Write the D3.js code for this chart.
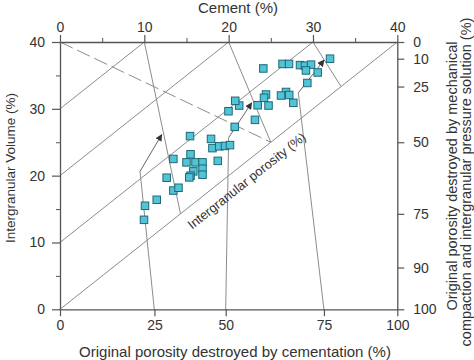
<!DOCTYPE html>
<html>
<head>
<meta charset="utf-8">
<script src="https://cdn.jsdelivr.net/npm/d3@7"></script>
<style>
  html, body { margin: 0; padding: 0; background: #fff; }
  svg { display: block; font-family: "Liberation Sans", Arial, Helvetica, sans-serif; }
</style>
</head>
<body>
<svg id="chart" width="474" height="360"></svg>
<script>
// ---------- data ----------
const cementTicks = [0, 10, 20, 30, 40];
const cementMinorTicks = [5, 15, 25, 35];
const igvTicks = [0, 10, 20, 30, 40];
const igvMinorTicks = [5, 15, 25, 35];
const compactionLabels = [0, 10, 25, 50, 75, 90, 100];
const cementationLabels = [0, 25, 50, 75, 100];
const cementationAtCement = [0, 11.2, 19.65, 31.3, 40];
const porosityIntercepts = [0, 10, 20, 30];
const isoCementationTop = [10, 20, 30];
const isoCementationBase = [14.29, 25, 33.33];
const equalLossLine = [[0, 40], [25, 25]];
const arrowPaths = [
  [[11.18, 0], [9.49, 20.64], [12.06, 26.14]],
  [[19.65, 0], [20.0, 25.7], [22.73, 30.9]],
  [[31.3, 0], [28.26, 32.4], [31.31, 37.29]]
];
const sampleCement = [32.02, 26.39, 27.16, 28.46, 29.05, 29.77, 29.17, 30.56, 24.11, 29.33,
  26.80, 26.21, 27.18, 27.67, 24.43, 24.19, 23.44, 24.73, 21.25, 20.78,
  23.12, 20.72, 19.98, 15.42, 17.91, 18.08, 18.88, 19.57, 20.16, 13.44,
  15.48, 15.00, 16.07, 16.90, 18.71, 16.90, 16.90, 15.81, 15.48, 15.33,
  12.65, 13.44, 14.05, 11.47, 10.08, 9.96];
const sampleIGV = [37.50, 36.72, 36.72, 36.54, 36.45, 36.61, 35.74, 35.44, 36.04, 33.87,
  32.52, 31.99, 32.07, 30.90, 32.14, 31.65, 30.54, 30.49, 30.49, 31.20,
  28.35, 27.30, 29.64, 25.92, 25.50, 24.12, 24.39, 24.45, 24.57, 22.50,
  23.19, 21.99, 21.99, 21.99, 22.21, 21.04, 20.14, 20.64, 19.99, 19.74,
  19.69, 17.77, 18.19, 16.39, 15.49, 13.39];

// ---------- layout ----------
const svg = d3.select("#chart");
const x = d3.scaleLinear().domain([0, 40]).range([60, 397.3]);
const y = d3.scaleLinear().domain([0, 40]).range([309.3, 42]);
const axisColor = "#555";
const lineColor = "#8c8c8c";
const textColor = "#333";

// original porosity 40 %: compaction loss fraction -> IGV
const igvForCompaction = p => 4000 * (1 - p / 100) / (100 - 0.4 * p);

svg.append("defs").append("marker")
  .attr("id", "arrowhead")
  .attr("viewBox", "0 0 10 10")
  .attr("refX", 9).attr("refY", 5)
  .attr("markerWidth", 7).attr("markerHeight", 7)
  .attr("markerUnits", "userSpaceOnUse")
  .attr("orient", "auto")
  .append("path").attr("d", "M0,0 L10,5 L0,10 z").attr("fill", "#333");

const line = d3.line().x(d => x(d[0])).y(d => y(d[1]));

// intergranular porosity diagonals
svg.append("g").selectAll("line").data(porosityIntercepts).join("line")
  .attr("x1", d => x(0)).attr("y1", d => y(d))
  .attr("x2", d => x(40 - d)).attr("y2", y(40))
  .attr("stroke", lineColor).attr("stroke-width", 1);

// iso cementation-loss lines
svg.append("g").selectAll("line").data(isoCementationTop).join("line")
  .attr("x1", d => x(d)).attr("y1", y(40))
  .attr("x2", (d, i) => x(isoCementationBase[i])).attr("y2", (d, i) => y(isoCementationBase[i]))
  .attr("stroke", lineColor).attr("stroke-width", 1);

// dashed equal-loss line
svg.append("path").datum(equalLossLine).attr("d", line)
  .attr("fill", "none").attr("stroke", lineColor).attr("stroke-width", 1)
  .attr("stroke-dasharray", "14,5");

// arrow paths: vertical part gray, arrow part dark
const ag = svg.append("g");
arrowPaths.forEach(p => {
  ag.append("path").datum(p.slice(0, 2)).attr("d", line)
    .attr("fill", "none").attr("stroke", lineColor).attr("stroke-width", 1);
  ag.append("path").datum(p.slice(1)).attr("d", line)
    .attr("fill", "none").attr("stroke", "#555").attr("stroke-width", 0.9)
    .attr("marker-end", "url(#arrowhead)");
});

// label along diagonal
const ang = Math.atan2(y(0) - y(40), x(40) - x(0)) * 180 / Math.PI;
svg.append("text")
  .attr("transform", `translate(${x(22.14)},${y(19.24)}) rotate(${-ang})`)
  .attr("text-anchor", "middle").attr("dy", "0.35em")
  .attr("font-size", 13).attr("fill", textColor)
  .text("Intergranular porosity (%)");

// samples
const s = 7.5;
svg.append("g").selectAll("rect").data(sampleCement).join("rect")
  .attr("x", d => x(d) - s / 2)
  .attr("y", (d, i) => y(sampleIGV[i]) - s / 2)
  .attr("width", s).attr("height", s)
  .attr("fill", "#52c4d5").attr("stroke", "#1d6878").attr("stroke-width", 1);

// ---------- axes ----------
function styleAxis(g) {
  g.select(".domain").attr("stroke", axisColor).attr("stroke-width", 1.3);
  g.selectAll(".tick line").attr("stroke", axisColor).attr("stroke-width", 1.2);
  g.selectAll(".tick text").attr("fill", textColor).attr("font-size", 14)
    .attr("font-family", '"Liberation Sans", Arial, sans-serif');
}

// top: cement
const gTop = svg.append("g").attr("transform", `translate(0,${y(40)})`)
  .call(d3.axisTop(x).tickValues(cementTicks).tickSize(7).tickSizeOuter(0).tickPadding(3));
styleAxis(gTop);
svg.append("g").attr("transform", `translate(0,${y(40)})`)
  .call(d3.axisTop(x).tickValues(cementMinorTicks).tickSize(4).tickSizeOuter(0).tickFormat(""))
  .call(g => { g.select(".domain").remove(); g.selectAll("line").attr("stroke", axisColor); });

// left: IGV
const gLeft = svg.append("g").attr("transform", `translate(${x(0)},0)`)
  .call(d3.axisLeft(y).tickValues(igvTicks).tickSize(8).tickSizeOuter(0).tickPadding(7));
styleAxis(gLeft);
svg.append("g").attr("transform", `translate(${x(0)},0)`)
  .call(d3.axisLeft(y).tickValues(igvMinorTicks).tickSize(4).tickSizeOuter(0).tickFormat(""))
  .call(g => { g.select(".domain").remove(); g.selectAll("line").attr("stroke", axisColor); });

// right: compaction loss
const gRight = svg.append("g").attr("transform", `translate(${x(40)},0)`)
  .call(d3.axisRight(y).tickValues(compactionLabels.map(igvForCompaction))
    .tickFormat((d, i) => compactionLabels[i]).tickSize(7).tickSizeOuter(0).tickPadding(9));
styleAxis(gRight);

// bottom: cementation loss
const gBottom = svg.append("g").attr("transform", `translate(0,${y(0)})`)
  .call(d3.axisBottom(x).tickValues(cementationAtCement)
    .tickFormat((d, i) => cementationLabels[i]).tickSize(7).tickSizeOuter(0).tickPadding(4));
styleAxis(gBottom);

// ---------- titles ----------
svg.append("text").attr("x", 238).attr("y", 13)
  .attr("text-anchor", "middle").attr("font-size", 15).attr("fill", textColor)
  .text("Cement (%)");
svg.append("text").attr("x", 235).attr("y", 357)
  .attr("text-anchor", "middle").attr("font-size", 15).attr("fill", textColor)
  .text("Original porosity destroyed by cementation (%)");
svg.append("text").attr("transform", "translate(10,168) rotate(-90)")
  .attr("text-anchor", "middle").attr("dy", "0.35em").attr("font-size", 13.5).attr("fill", textColor)
  .text("Intergranular Volume (%)");
svg.append("text").attr("transform", "translate(452,176) rotate(-90)")
  .attr("text-anchor", "middle").attr("dy", "0.35em").attr("font-size", 14.5).attr("fill", textColor)
  .text("Original porosity destroyed by mechanical");
svg.append("text").attr("transform", "translate(466,182) rotate(-90)")
  .attr("text-anchor", "middle").attr("dy", "0.35em").attr("font-size", 14.5).attr("fill", textColor)
  .text("compaction and intergranular pressure solution (%)");
</script>
</body>
</html>
